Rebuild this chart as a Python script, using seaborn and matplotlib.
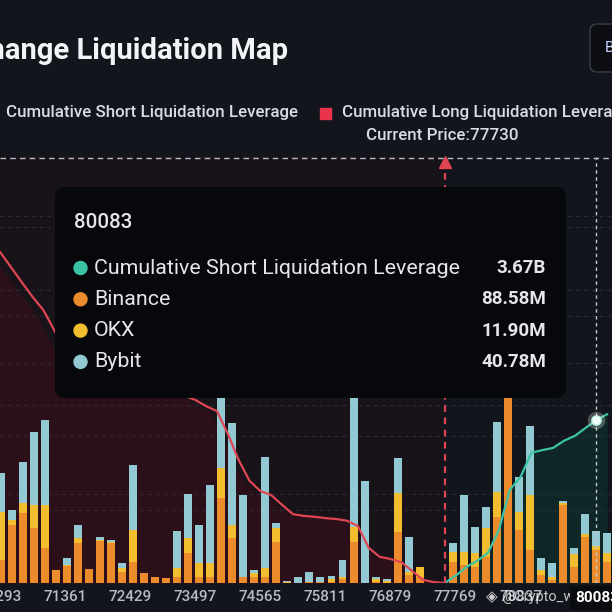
import matplotlib
matplotlib.use('Agg')
import matplotlib.pyplot as plt
import seaborn as sns
import pandas as pd
from matplotlib.patches import FancyBboxPatch, Rectangle, Circle
from matplotlib.lines import Line2D

# price buckets (bar slots); slot -1 sits just left of the visible frame
slot = list(range(-1, 56))
binance = [81, 62.1, 156.6, 188.2, 147.7, 93.7, 35.1, 45.9, 107.2, 37.8,
           113.4, 107.2, 30.5, 57.5, 26.2, 17.0, 12.7, 17.0, 81.8, 17.0,
           15.4, 228.7, 120.7, 16.2, 16.2, 17.0, 110.7, 1.0, 1.0, 2.7,
           3.0, 1.5, 10.0, 111.5, 1.0, 1.5, 1.0, 138.5, 21.6, 17.0,
           0, 0, 57.5, 48.6, 44.0, 71.0, 179.0, 580.5, 143.1, 89.1,
           21.6, 8.1, 210.6, 44.0, 125.0, 88.58, 57.5]
okx = [27, 130.4, 13.5, 27.0, 62.9, 116.9, 0, 2.7, 13.5, 0,
       1.4, 2.7, 9.2, 85.6, 0, 0, 0, 22.7, 38.9, 37.8,
       39.4, 81.0, 35.9, 1.0, 10.8, 22.7, 37.0, 1.0, 0, 0,
       0, 10.0, 7.0, 40.5, 0, 9.0, 5.0, 105.3, 8.9, 27.0,
       0, 0, 27.0, 35.9, 36.2, 76.7, 67.5, 0, 49.4, 148.5,
       13.5, 8.9, 4.6, 34.3, 7.3, 11.90, 22.7]
bybit = [54, 103.7, 27.0, 112.3, 197.9, 229.5, 0, 18.1, 35.9, 0,
         10.3, 6.2, 15.1, 175.5, 0, 0, 0, 101.5, 119.6, 101.8,
         209.8, 270.8, 274.6, 221.4, 8.1, 301.3, 14.3, 2.6, 14.4, 27.8,
         14.0, 7.5, 45.1, 428.5, 275.2, 6.5, 4.0, 92.9, 94.5, 0,
         0, 0, 22.7, 153.1, 71.8, 58.3, 189.0, 0, 92.9, 186.3,
         31.6, 36.2, 7.0, 15.4, 54.0, 40.78, 54.0]

# cumulative leverage (billions)
long_slot = list(range(-1, 41))
cum_long = [7.45, 7.11, 6.77, 6.44, 6.14, 5.69, 5.20, 4.79, 4.57, 4.46, 4.41,
            4.37, 4.34, 4.32, 4.30, 4.28, 4.25, 4.21, 4.12, 3.98, 3.87,
            3.36, 2.77, 2.30, 2.07, 1.98, 1.76, 1.55, 1.51, 1.49, 1.46,
            1.44, 1.40, 1.28, 0.79, 0.59, 0.54, 0.47, 0.27, 0.07, 0.02, 0.0]
short_slot = list(range(40, 56))
cum_short = [0.0, 0.16, 0.36, 0.50, 0.68, 1.19, 2.09, 2.39, 2.93, 2.99,
             3.04, 3.20, 3.31, 3.49, 3.67, 3.80]

tick_slots = [-1, 5, 11, 17, 23, 29, 35, 41, 47]
tick_labels = ['70293', '71361', '72429', '73497', '74565', '75811',
               '76879', '77769', '78837']
price_slot = 40
hover_slot = 54

BG = '#13151c'
BIN_C = '#ec8b2c'
OKX_C = '#f2bd2f'
BYBIT_C = '#93c9d3'
RED = '#df4552'
TEAL = '#3cc2a5'
TXT = '#d9dce2'

sns.set_theme(style='dark')
plt.rcParams['font.family'] = ['Roboto', 'DejaVu Sans']

W = H = 612.0
def fx(px):
    return px / W
def fy(py):
    return 1 - py / H

fig = plt.figure(figsize=(6.12, 6.12), dpi=100, facecolor=BG)
rect = [0, fy(583), 1, (583 - 157) / H]
ax_cum = fig.add_axes(rect, facecolor=BG)
ax_bar = fig.add_axes(rect, facecolor='none')
ax_top = fig.add_axes(rect, facecolor='none')

XL = (-0.05, 55.43)
CUM_TOP = 426 * 0.0225
BAR_TOP = 426 * 2.7

# background fills for the cumulative curves
ax_cum.axvspan(XL[0], price_slot, color='#181319', lw=0, zorder=0.5)
ax_cum.fill_between(long_slot, cum_long, color='#2c1019', lw=0)
ax_cum.fill_between(short_slot, cum_short, color='#0f2727', lw=0)
ax_cum.set_ylim(0, CUM_TOP)
ax_cum.set_yticks([1.65 * k for k in range(1, 6)])
ax_cum.set_axisbelow(False)
ax_cum.grid(axis='y', color='#2a2d36', ls=(0, (4, 4)), lw=0.7)
ax_cum.grid(axis='x', visible=False)

# stacked bars: Binance bottom, OKX middle, Bybit top
df = pd.DataFrame({'slot': slot, 'Binance': binance, 'OKX': okx, 'Bybit': bybit})
df['okx_top'] = df['Binance'] + df['OKX']
df['bybit_top'] = df['okx_top'] + df['Bybit']
for col, c in [('bybit_top', BYBIT_C), ('okx_top', OKX_C), ('Binance', BIN_C)]:
    sns.barplot(data=df, x='slot', y=col, color=c, native_scale=True,
                width=0.72, saturation=1, errorbar=None, linewidth=0,
                edgecolor='none', ax=ax_bar)
ax_bar.set_ylim(0, BAR_TOP)
ax_bar.set_yticks(range(240, 1150, 240))
ax_bar.grid(axis='y', color='#2a2d36', ls=(0, (4, 4)), lw=0.7)
ax_bar.grid(axis='x', visible=False)

# cumulative lines
sns.lineplot(data=pd.DataFrame({'slot': long_slot, 'v': cum_long}), x='slot', y='v',
             color=RED, lw=1.6, ax=ax_top)
sns.lineplot(data=pd.DataFrame({'slot': short_slot, 'v': cum_short}), x='slot', y='v',
             color=TEAL, lw=1.6, ax=ax_top)
ax_top.set_ylim(0, CUM_TOP)

# current price marker
xt = ax_top.get_xaxis_transform()
ax_top.axvline(price_slot, ymin=0, ymax=(583 - 168) / 426, color=RED,
               ls=(0, (3, 2.5)), lw=1.6)
ax_top.plot(price_slot, (583 - 162) / 426, marker='^', ms=9, color=RED,
            transform=xt, clip_on=False)

# hover crosshair
ax_top.axvline(hover_slot, color='#c4c7ce', ls=(0, (2.5, 2.5)), lw=1)
fig.add_artist(Line2D([0, 1], [fy(157.5)] * 2, transform=fig.transFigure,
                      color='#b9bcc4', ls=(0, (4, 3)), lw=1))
ax_top.scatter([hover_slot], [3.67], s=160, color='white', alpha=0.25, lw=0, zorder=5)
ax_top.scatter([hover_slot], [3.67], s=45, color='#effffa', edgecolor='#bff0e0',
               lw=1, zorder=6)

for a in (ax_cum, ax_bar, ax_top):
    a.set_xlim(XL)
    a.set_xlabel('')
    a.set_ylabel('')
    a.tick_params(length=0, labelleft=False, labelright=False)
    for s in a.spines.values():
        s.set_visible(False)
for a in (ax_cum, ax_bar):
    a.tick_params(labelbottom=False)
ax_top.set_yticks([])
ax_top.set_xticks(tick_slots, labels=tick_labels)
ax_top.tick_params(axis='x', pad=5, labelsize=11, labelcolor='#b6bac3')
for t in ax_top.get_xticklabels():
    t.set_fontweight('medium')

# header
fig.text(fx(288), fy(51), 'Exchange Liquidation Map', ha='right', va='center',
         fontsize=21, fontweight='bold', color='#f2f4f7')
fig.text(fx(298), fy(113), 'Cumulative Short Liquidation Leverage', ha='right',
         va='center', fontsize=12.2, fontweight='medium', color=TXT)
fig.add_artist(Rectangle((fx(320), fy(119)), 11 / W, 11 / H, color='#e8334a',
                         transform=fig.transFigure))
fig.text(fx(342), fy(113), 'Cumulative Long Liquidation Leverage', ha='left',
         va='center', fontsize=12.2, fontweight='medium', color=TXT)
fig.text(fx(442), fy(136), 'Current Price:77730', ha='center', va='center',
         fontsize=12.2, fontweight='medium', color=TXT)
fig.add_artist(FancyBboxPatch((fx(590), fy(72)), 80 / W, 48 / H,
                              boxstyle='round,pad=0,rounding_size=0.012',
                              transform=fig.transFigure, facecolor='#0c0d12',
                              edgecolor='#3a3e48', lw=1))
fig.text(fx(605), fy(48), 'BTC', ha='left', va='center', fontsize=11, color='#c8d4ff')

# tooltip
tip = FancyBboxPatch((fx(55), fy(398)), (566 - 55) / W, (398 - 187) / H,
                     boxstyle='round,pad=0,rounding_size=0.017',
                     transform=fig.transFigure, facecolor='#07080b',
                     edgecolor='none', zorder=10)
fig.add_artist(tip)
fig.text(fx(74), fy(222), '80083', ha='left', va='center', fontsize=14.8,
         fontweight='medium', color='#e4e6ea', zorder=11)
rows = [('Cumulative Short Liquidation Leverage', '3.67B', TEAL),
        ('Binance', '88.58M', BIN_C),
        ('OKX', '11.90M', OKX_C),
        ('Bybit', '40.78M', BYBIT_C)]
for k, (name, val, c) in enumerate(rows):
    y = 268 + 31.3 * k
    fig.add_artist(Circle((fx(80.5), fy(y)), 6.5 / W, color=c,
                          transform=fig.transFigure, zorder=11))
    fig.text(fx(94), fy(y), name, ha='left', va='center', fontsize=15.4,
             color='#e4e6ea', zorder=11)
    fig.text(fx(546), fy(y), val, ha='right', va='center', fontsize=13.5,
             fontweight='bold', color='#e4e6ea', zorder=11)

# watermark and hover label on the axis
fig.text(fx(486), fy(597), '◈', family='DejaVu Sans', ha='left', va='center',
         fontsize=11, color='white', alpha=0.8, zorder=11)
fig.text(fx(501), fy(597), '@Crypto_wizard1', ha='left', va='center',
         fontsize=10.5, color='white', alpha=0.75, zorder=11)
fig.text(fx(597), fy(598), '80083', ha='center', va='center', fontsize=11,
         fontweight='bold', color='white', zorder=12,
         bbox=dict(boxstyle='square,pad=0.3', fc='#0b0c10', ec='none'))

fig.savefig('out.png', dpi=100, facecolor=BG)
